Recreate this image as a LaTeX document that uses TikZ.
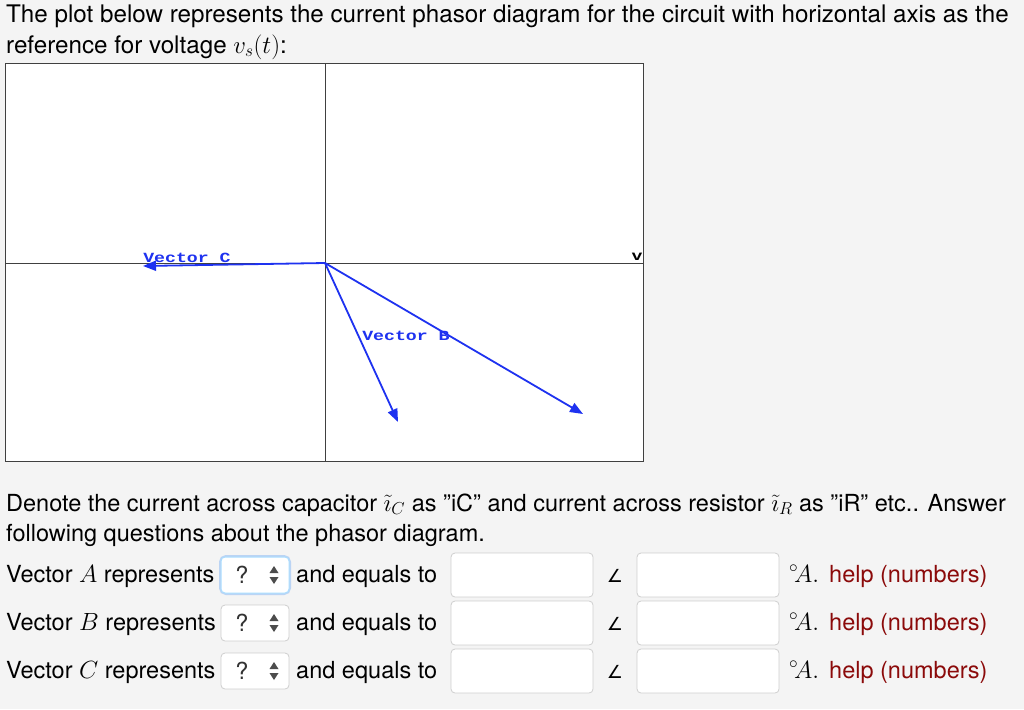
\documentclass[tikz,border=0pt]{standalone}
\usepackage{fontspec}
\setmainfont{TeX Gyre Heros}
\newfontfamily\pixfont{Liberation Mono}
\newfontfamily\symfont{DejaVu Sans}
\usetikzlibrary{arrows.meta}
\definecolor{bg}{HTML}{F4F4F4}
\definecolor{vblue}{HTML}{1E32F0}
\definecolor{helpred}{HTML}{8B0A0A}
\definecolor{boxgray}{HTML}{CFCFCF}
\definecolor{focusblue}{HTML}{8DB8EC}
\begin{document}
\begin{tikzpicture}[x=1pt,y=-1pt,
  txt/.style={anchor=base west,inner sep=0pt,font=\fontsize{23.5}{28}\selectfont},
  vec/.style={draw=vblue,line width=1.8pt,-{Triangle[length=13pt,width=10pt]}},
  vlabel/.style={anchor=base west,inner sep=0pt,text=vblue,xscale=1.3,font=\pixfont\bfseries\fontsize{14}{14}\selectfont},
  inbox/.style={draw=boxgray,fill=white,rounded corners=4pt,line width=0.8pt},
  selbox/.style={draw=boxgray,fill=white,rounded corners=4pt,line width=0.8pt},
  helptxt/.style={anchor=base west,inner sep=0pt,text=helpred,font=\fontsize{23.5}{28}\selectfont}]
\fill[bg] (0,0) rectangle (1024,709);
\useasboundingbox (0,0) rectangle (1024,709);
% header text
\node[txt,font=\fontsize{24.2}{28}\selectfont] (h1) at (6,22.5) {The plot below represents the current phasor diagram for the circuit with horizontal axis as the};
\node[txt,font=\fontsize{24.2}{28}\selectfont] (h2) at (6,53) {reference for voltage $v_s(t)$:};
% plot
\draw[fill=white,draw=black!75,line width=0.8pt] (5,63) rectangle (643,461);
\draw[black!75,line width=0.8pt] (325,63) -- (325,461);
\draw[black!75,line width=0.8pt] (5,263) -- (643,263);
\coordinate (O) at (325,263);
\coordinate (Cend) at (143,266);
\coordinate (Bend) at (583,414);
\coordinate (Aend) at (398,422);
\draw[vec] (O) -- (Cend);
\draw[vec] (O) -- (Bend);
\draw[vec] (O) -- (Aend);
\node[vlabel] (lc) at (143,262) {Vector C};
\node[vlabel] (lb) at (362,340) {Vector B};
\node[anchor=base,inner sep=0pt,xscale=1.3,font=\pixfont\bfseries\fontsize{14}{14}\selectfont] (lv) at (637,260) {v};
% question text
\node[txt] (q1) at (6,511) {Denote the current across capacitor $\tilde{\imath}_C$ as "iC" and current across resistor $\tilde{\imath}_R$ as "iR" etc.. Answer};
\node[txt] (q2) at (6,541) {following questions about the phasor diagram.};
% rows
\foreach \r/\L/\y in {1/A/0,2/B/48,3/C/96}{
  \node[txt] (vr\r) at (6,582+\y) {Vector $\L$ represents};
  \node[txt] (ae\r) at (296,582+\y) {and equals to};
  \draw[inbox] (451,553+\y) rectangle (593,597+\y);
  \node[anchor=base,inner sep=0pt,font=\symfont\fontsize{18}{20}\selectfont] (ang\r) at (615,582+\y) {∠};
  \draw[inbox] (637,553+\y) rectangle (779,597+\y);
  \node[txt] (deg\r) at (789,582+\y) {$^\circ\!A.$};
  \node[helptxt] (hp\r) at (829,582+\y) {help (numbers)};
}
% select boxes
\draw[focusblue!60,line width=4pt,rounded corners=5pt] (221,557) rectangle (289,593);
\draw[draw=focusblue!120!black,fill=white,line width=1pt,rounded corners=4pt] (221,557) rectangle (289,593);
\draw[selbox] (221,605) rectangle (289,641);
\draw[selbox] (221,653) rectangle (289,689);
\foreach \r/\y in {1/0,2/48,3/96}{
  \node[anchor=base,inner sep=0pt,font=\fontsize{23.5}{28}\selectfont,text=black!80] (qm\r) at (242,583+\y) {?};
  \fill[black!70] (274,566+\y) -- (269.5,573+\y) -- (278.5,573+\y) -- cycle;
  \fill[black!70] (274,584+\y) -- (269.5,577+\y) -- (278.5,577+\y) -- cycle;
}
\end{tikzpicture}
\end{document}
